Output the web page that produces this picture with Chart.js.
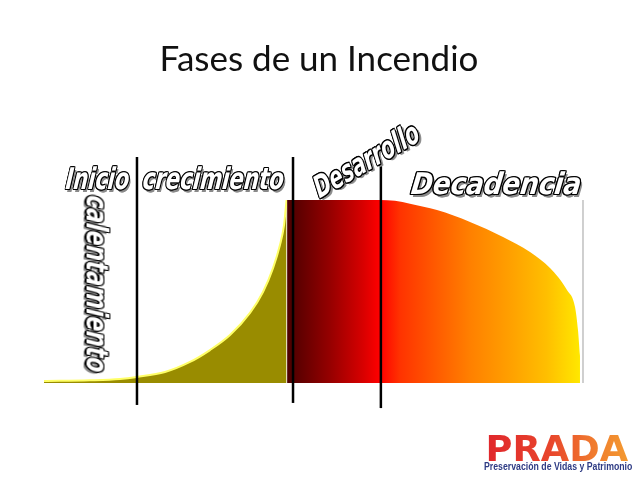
<!DOCTYPE html>
<html>
<head>
<meta charset="utf-8">
<script src="https://cdn.jsdelivr.net/npm/chart.js@4.4.0/dist/chart.umd.min.js"></script>
<style>
  html, body { margin:0; padding:0; background:#fff; }
  #wrap { position:relative; width:638px; height:479px; overflow:hidden; }
  #c { position:absolute; left:0; top:0; }
  .title { position:absolute; left:0; width:638px; top:40px; text-align:center;
           font-family:"Lato", "Open Sans", sans-serif; font-size:35px; color:#111; line-height:1; }
  .wa { position:absolute; white-space:nowrap; line-height:1;
        font-family:"DejaVu Sans", "Liberation Sans", sans-serif; font-weight:bold; font-style:italic; font-size:30px;
        color:#fff;
        text-shadow: -1.2px -1.2px 0 #000, 1.2px -1.2px 0 #000, -1.2px 1.2px 0 #000, 1.2px 1.2px 0 #000,
                     0 -1.4px 0 #000, 0 1.4px 0 #000, -1.4px 0 0 #000, 1.4px 0 0 #000,
                     2.6px 2.6px 0 #8a8a8a, 3.2px 3.2px 0 #9a9a9a; }
  .logo { position:absolute; white-space:nowrap; line-height:1; }
</style>
</head>
<body>
<div id="wrap">
  <canvas id="c" width="638" height="479"></canvas>
  <div class="title">Fases de un Incendio</div>
</div>
<script>
// ---- data (time in % of span, temperature in % of peak) ----
const heatTime   = [0, 8.53, 14.1, 17.25, 22.45, 27.09, 30.8, 34.51, 38.22, 40.63, 42.49, 43.78, 44.53, 45.0];
const heatTemp   = [1.1, 1.5, 2.2, 3.3, 6.0, 11.5, 18.0, 26.2, 38.3, 49.7, 62.8, 75.4, 86.3, 100];
const fireTime   = [45.1, 62.34, 65.12, 67.9, 72.91, 79.04, 85.16, 90.17, 93.88, 97.03, 98.52, 99.07, 99.44];
const fireTemp   = [100, 100, 99.6, 98.0, 94.5, 88.0, 79.8, 71.6, 62.8, 50.8, 41.5, 29.0, 15.0];
const phaseBoundaries = [17.25, 46.2, 62.5];
const boundaryTop     = [123.5, 123.5, 121.9];
const boundaryBottom  = [-12.0, -10.9, -13.7];
const phaseLabels = ["Inicio", "crecimiento", "calentamiento", "Desarrollo", "Decadencia"];

const toPts = (xs, ys) => xs.map((x, i) => ({x, y: ys[i]}));

const gradStops = [[0,'#4a0000'],[0.147,'#960000'],[0.26,'#d80000'],[0.317,'#ff0000'],
                   [0.386,'#ff3300'],[0.522,'#ff5f00'],[0.625,'#ff8000'],[0.77,'#ffa200'],
                   [0.887,'#ffbf00'],[1,'#ffe800']];

function fireFill(ctx) {
  const chart = ctx.chart;
  if (!chart.chartArea) return '#ff0000';
  const xs = chart.scales.x;
  const g = chart.ctx.createLinearGradient(xs.getPixelForValue(fireTime[0]), 0,
                                           xs.getPixelForValue(fireTime[fireTime.length-1]), 0);
  gradStops.forEach(s => g.addColorStop(s[0], s[1]));
  return g;
}

const lineSets = phaseBoundaries.map((x, i) => ({
  data: [{x, y: boundaryBottom[i]}, {x, y: boundaryTop[i]}],
  borderColor: '#000', borderWidth: 2.5, pointRadius: 0, fill: false, clip: false, order: 0
}));

new Chart(document.getElementById('c'), {
  type: 'line',
  data: {
    datasets: [
      ...lineSets,
      { data: [{x:100, y:0}, {x:100, y:100}], borderColor:'#b0b0b0', borderWidth:1.2,
        pointRadius:0, fill:false, clip:false, order:1 },
      { data: toPts(heatTime, heatTemp), borderColor:'#ffff66', borderWidth:2,
        backgroundColor:'#998c00', fill:'origin', pointRadius:0,
        cubicInterpolationMode:'monotone', order:3 },
      { data: toPts(fireTime, fireTemp), borderWidth:0, borderColor:'rgba(0,0,0,0)',
        backgroundColor: fireFill, fill:'origin', pointRadius:0,
        cubicInterpolationMode:'monotone', order:2 }
    ]
  },
  options: {
    responsive:false, animation:false, events:[],
    layout:{ padding:{ left:44, right:55, top:145.1, bottom:68.55 } },
    plugins:{ legend:{display:false}, tooltip:{enabled:false}, title:{display:false} },
    scales:{
      x:{ type:'linear', min:0, max:100, display:false },
      y:{ type:'linear', min:-15, max:130, display:false }
    }
  }
});

// ---- WordArt phase labels ----
const labelCenters = [[97.5,179,63,0],[213.5,179,141,0],[96,283.5,177,90],[366,160,118,-30],[496.5,184,170,0]];
const wrap = document.getElementById('wrap');
function placeLabels() {
  phaseLabels.forEach((t, i) => {
    const [cx, cy, w, rot] = labelCenters[i];
    const s = document.createElement('span');
    s.className = 'wa';
    s.textContent = t;
    wrap.appendChild(s);
    const nw = s.offsetWidth, nh = s.offsetHeight;
    s.style.left = (cx - nw/2) + 'px';
    s.style.top = (cy - nh/2) + 'px';
    s.style.transformOrigin = '50% 50%';
    s.style.transform = `rotate(${rot}deg) scaleX(${w/nw}) skewX(-8deg)`;
  });
  // logo
  const p = document.createElement('span');
  p.className = 'logo';
  p.textContent = 'PRADA';
  p.style.cssText += 'font-family:"DejaVu Sans",sans-serif;font-weight:bold;font-size:36px;' +
    'background:linear-gradient(90deg,#e0262c 0%,#e8452c 45%,#f07a2e 75%,#f39a30 100%);' +
    '-webkit-background-clip:text;background-clip:text;color:transparent;';
  wrap.appendChild(p);
  const pw = p.offsetWidth, ph = p.offsetHeight;
  p.style.left = (556.5 - pw/2) + 'px';
  p.style.top = (448.5 - ph/2) + 'px';
  p.style.transform = `scaleX(${143/pw})`;
  const sub = document.createElement('span');
  sub.className = 'logo';
  sub.textContent = 'Preservación de Vidas y Patrimonio';
  sub.style.cssText += 'font-family:"Liberation Sans",Arial,sans-serif;font-weight:bold;font-size:10.5px;color:#2e3b84;';
  wrap.appendChild(sub);
  const sw = sub.offsetWidth, sh = sub.offsetHeight;
  sub.style.left = (558 - sw/2) + 'px';
  sub.style.top = (466.5 - sh/2) + 'px';
  sub.style.transform = `scaleX(${148/sw})`;
}
if (document.fonts && document.fonts.ready) document.fonts.ready.then(placeLabels); else placeLabels();
</script>
</body>
</html>
